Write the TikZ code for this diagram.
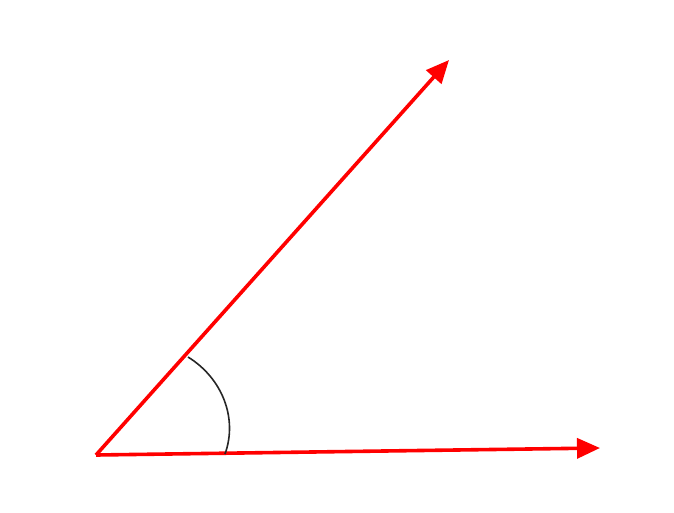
\documentclass[tikz,border=0pt]{standalone}
\usetikzlibrary{arrows.meta}
\begin{document}
\begin{tikzpicture}[x=1pt,y=-1pt,
  ray/.style={draw=red,line width=3.6pt,-{Triangle[length=23pt,width=20pt]}},
  anglearc/.style={draw=black!85,line width=1.6pt}]
\useasboundingbox (0,0) rectangle (674,512);
\coordinate (O) at (96,455);
\coordinate (A) at (449,60);
\coordinate (B) at (600,448);
\coordinate (P) at (188,357);
\coordinate (Q) at (225,454);
\draw[ray] (O) -- (A);
\draw[ray] (O) -- (B);
\draw[anglearc] (P) .. controls (222,378) and (238,418) .. (Q);
\end{tikzpicture}
\end{document}
